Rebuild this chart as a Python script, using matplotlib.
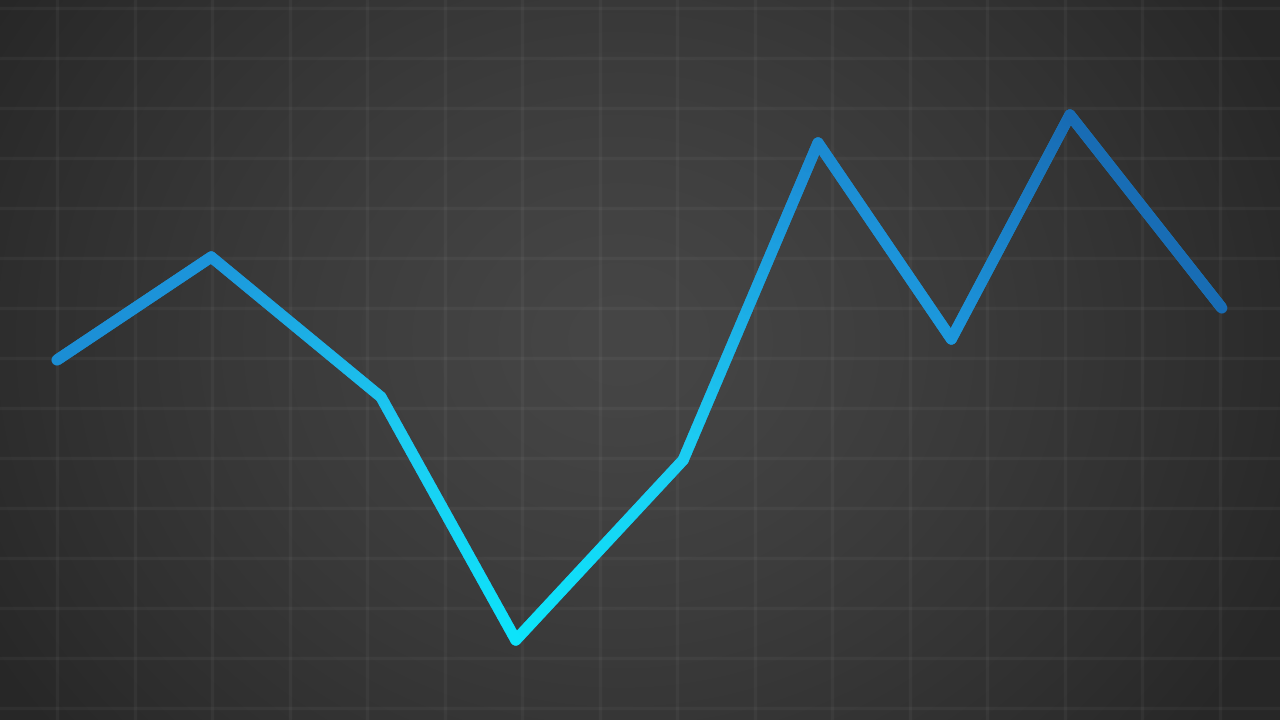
import numpy as np
import matplotlib
matplotlib.use("Agg")
import matplotlib.pyplot as plt
from matplotlib.collections import LineCollection

# Data (grid units: x step = one vertical grid cell, y step = one horizontal grid cell)
x_vals = [0.0, 1.99, 4.18, 5.92, 8.08, 9.82, 11.54, 13.07, 15.03]
y_vals = [6.96, 9.02, 6.22, 1.36, 4.96, 11.30, 7.38, 11.86, 8.00]
x_grid = list(range(0, 16))
y_grid = list(range(0, 15))

W, H = 1280, 720
fig = plt.figure(figsize=(12.8, 7.2), dpi=100)
ax = fig.add_axes([0, 0, 1, 1])
xlim = (-57 / 77.5, (W - 57) / 77.5)
ylim = ((708 - H) / 50.0, 708 / 50.0)
ax.set_xlim(*xlim)
ax.set_ylim(*ylim)
ax.axis("off")

# Background vignette
yy, xx = np.mgrid[0:H, 0:W]
cx, cy = 620, 340
d = np.sqrt(((xx - cx) / 1.15) ** 2 + (yy - cy) ** 2)
t = np.clip(d / 640.0, 0, 1) ** 1.3
c0, c1 = 0x46 / 255, 0x27 / 255
lum = c0 + (c1 - c0) * t
bg = np.dstack([lum, lum, lum])
ax.imshow(bg, extent=[xlim[0], xlim[1], ylim[0], ylim[1]], origin="upper",
          aspect="auto", zorder=0, interpolation="bilinear")

# Grid
for gx in x_grid:
    ax.axvline(gx, color="white", alpha=0.04, lw=2.4, zorder=1)
for gy in y_grid:
    ax.axhline(gy, color="white", alpha=0.04, lw=2.4, zorder=1)

# Line with radial colour gradient (centred near bottom middle)
fig.canvas.draw()
xs = np.array(x_vals)
ys = np.array(y_vals)
segs, cols = [], []
stops_d = [0, 300, 560, 800]
stops_c = np.array([[0x08, 0xea, 0xfc], [0x1c, 0xcc, 0xf2],
                    [0x1c, 0x94, 0xda], [0x18, 0x68, 0xb0]]) / 255.0
n = 40
for i in range(len(xs) - 1):
    px = np.linspace(xs[i], xs[i + 1], n + 1)
    py = np.linspace(ys[i], ys[i + 1], n + 1)
    for j in range(n):
        segs.append([(px[j], py[j]), (px[j + 1], py[j + 1])])
        mx, my = (px[j] + px[j + 1]) / 2, (py[j] + py[j + 1]) / 2
        disp = ax.transData.transform((mx, my))
        pxl, pyl = disp[0], H - disp[1]
        dd = np.hypot(pxl - 550, pyl - 700)
        cols.append([np.interp(dd, stops_d, stops_c[:, k]) for k in range(3)])

ax.plot(xs, ys, color="#1c94da", lw=8.0, solid_joinstyle="round",
        solid_capstyle="butt", zorder=2)
lc = LineCollection(segs, colors=cols, linewidths=8.0, capstyle="round",
                    zorder=3)
ax.add_collection(lc)

fig.savefig("out.png", dpi=100)
